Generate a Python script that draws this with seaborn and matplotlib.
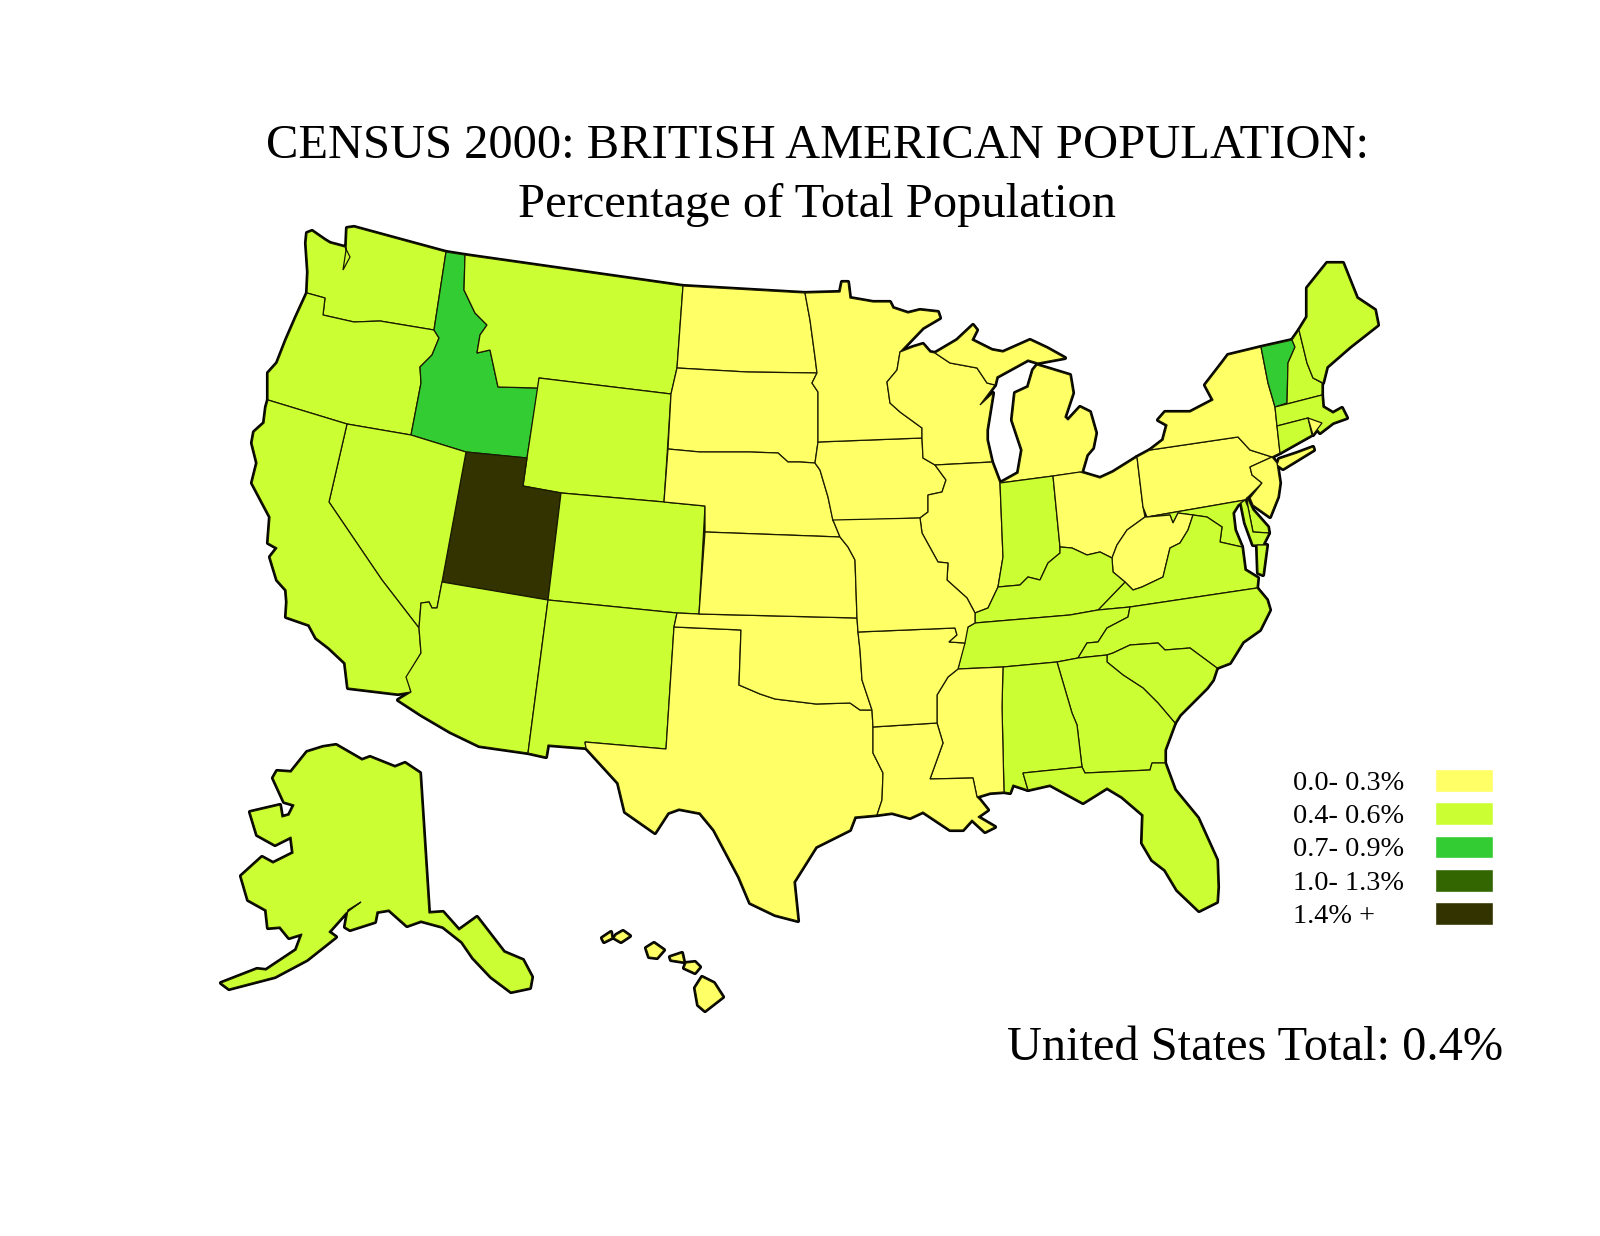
import matplotlib
matplotlib.use("Agg")
import matplotlib.pyplot as plt
import seaborn as sns

sns.set_theme(style="white")
plt.rcParams['font.family'] = ['Liberation Serif', 'DejaVu Serif']

# Legend classes
BIN_LABELS = ["0.0- 0.3%", "0.4- 0.6%", "0.7- 0.9%", "1.0- 1.3%", "1.4% +"]
BIN_COLORS = ["#FFFF66", "#CCFF33", "#33CC33", "#336600", "#333300"]
SWATCH_SIZE = [1, 1, 1, 1, 1]

# State outlines, in image pixels
WA = [[(307,233),(312,231),(325,240),(330,243),(345,247),(350,257),(343,270),(346,250),(347,228),(354,227),(446,252),(434,330),(380,321),(354,322),(323,315),(325,298),(307,293),(308,272),(306,243)]]
OR = [[(307,293),(325,298),(323,315),(354,322),(380,321),(434,330),(439,338),(432,355),(420,367),(421,383),(411,435),(347,424),(268,400),(268,373),(277,363),(286,340),(296,317)]]
ID = [[(446,252),(465,255),(464,290),(475,313),(487,325),(480,335),(477,353),(490,350),(498,387),(538,388),(527,458),(466,452),(411,435),(421,383),(420,367),(432,355),(439,338),(434,330)]]
MT = [[(465,255),(683,286),(677,368),(671,394),(539,378),(538,388),(498,387),(490,350),(477,353),(480,335),(487,325),(475,313),(464,290)]]
WY = [[(539,378),(671,394),(664,502),(562,493),(523,486),(527,458)]]
UT = [[(466,452),(527,458),(523,486),(561,493),(548,600),(442,582)]]
CO = [[(561,493),(664,502),(705,506),(699,614),(677,613),(548,600)]]
NV = [[(347,424),(411,435),(466,452),(442,582),(437,608),(432,608),(429,602),(421,603),(419,628),(382,580),(329,502)]]
CA = [[(268,400),(347,424),(329,502),(382,580),(419,628),(421,653),(407,677),(411,692),(398,694),(348,688),(345,663),(329,648),(316,638),(309,625),(286,617),(287,602),(286,590),(277,580),(270,557),(277,548),(268,543),(270,517),(261,500),(252,483),(257,463),(252,443),(254,432),(264,423),(266,407)]]
AZ = [[(442,582),(548,600),(528,753),(479,746),(450,732),(421,715),(398,700),(411,692),(406,677),(421,653),(419,628),(421,603),(429,602),(432,608),(437,608)]]
NM = [[(548,600),(677,613),(674,627),(666,749),(585,742),(586,748),(548,745),(546,757),(528,753)]]
TX = [[(674,627),(741,630),(739,685),(760,694),(775,699),(816,704),(850,703),(860,710),(872,710),(873,727),(873,753),(883,773),(882,800),(877,815),(855,817),(850,830),(816,847),(794,882),(798,921),(775,915),(750,903),(739,877),(714,830),(700,813),(679,809),(668,813),(655,833),(625,812),(618,783),(586,748),(585,742),(666,749)]]
OK = [[(677,613),(699,614),(857,618),(858,632),(860,650),(862,680),(872,710),(860,710),(850,703),(816,704),(775,699),(760,694),(739,685),(741,630),(674,627)]]
ND = [[(683,286),(805,293),(810,320),(815,357),(817,373),(747,372),(677,368)]]
SD = [[(677,368),(747,372),(817,373),(812,383),(818,392),(818,442),(815,463),(800,462),(788,462),(778,453),(750,452),(700,452),(668,449),(671,394)]]
NE = [[(668,449),(700,452),(750,452),(778,453),(788,462),(800,462),(815,463),(820,470),(828,497),(833,520),(840,537),(705,532),(705,506),(664,502)]]
KS = [[(705,532),(840,537),(848,547),(855,560),(857,618),(699,614)]]
IA = [[(818,442),(922,438),(923,458),(935,465),(946,480),(942,492),(928,495),(928,512),(920,518),(833,521),(828,497),(820,470),(815,463)]]
MN = [[(805,293),(840,292),(842,282),(848,282),(850,298),(873,302),(890,302),(893,308),(908,313),(920,310),(938,312),(940,318),(923,328),(900,352),(897,370),(887,382),(890,403),(900,412),(922,428),(922,438),(818,442),(818,392),(812,383),(817,373),(815,357),(810,320)]]
WI = [[(900,352),(913,347),(923,344),(930,352),(935,353),(950,363),(977,368),(987,383),(995,385),(980,405),(993,393),(987,430),(987,440),(992,462),(935,465),(923,458),(922,438),(922,428),(900,412),(890,403),(887,382),(897,370)]]
MI = [[(935,353),(957,340),(973,325),(977,330),(972,340),(992,350),(1003,352),(1030,340),(1047,348),(1065,358),(1038,363),(1028,360),(997,377),(995,385),(987,383),(977,368),(950,363)],
      [(1037,365),(1047,368),(1070,375),(1073,393),(1065,417),(1068,420),(1080,407),(1090,412),(1096,433),(1093,448),(1087,455),(1082,472),(1053,476),(1000,483),(1018,473),(1022,450),(1012,420),(1015,393),(1028,387),(1033,370)]]
IL = [[(935,465),(992,462),(1000,483),(1003,557),(998,587),(988,608),(975,613),(967,598),(947,580),(948,563),(938,562),(922,533),(920,518),(928,512),(928,495),(942,492),(946,480)]]
IN = [[(1000,483),(1053,476),(1060,547),(1060,553),(1048,563),(1040,580),(1028,577),(1020,585),(998,587),(1003,557)]]
OH = [[(1053,476),(1080,472),(1100,478),(1113,472),(1137,457),(1143,507),(1145,517),(1127,530),(1117,545),(1112,558),(1100,552),(1087,555),(1072,548),(1060,547)]]
PA = [[(1137,457),(1150,450),(1238,437),(1250,450),(1272,457),(1250,467),(1252,475),(1262,483),(1245,500),(1147,517),(1143,507)]]
NY = [[(1150,450),(1163,440),(1167,425),(1158,420),(1165,412),(1190,412),(1213,400),(1205,385),(1222,363),(1228,355),(1261,347),(1268,383),(1275,407),(1277,426),(1280,453),(1272,457),(1250,450),(1238,437)],
      [(1279,459),(1297,453),(1313,447),(1314,450),(1283,469),(1277,465)]]
VT = [[(1261,347),(1292,340),(1295,347),(1288,363),(1287,403),(1275,407),(1268,383)]]
NH = [[(1292,340),(1299,330),(1307,363),(1313,378),(1322,383),(1322,395),(1287,404),(1288,363),(1295,347)]]
ME = [[(1299,330),(1307,317),(1307,288),(1327,263),(1343,263),(1357,298),(1375,310),(1378,325),(1350,347),(1327,367),(1323,383),(1313,378),(1307,363)]]
MA = [[(1275,407),(1287,404),(1322,395),(1323,407),(1333,413),(1342,408),(1347,418),(1333,423),(1320,433),(1308,418),(1277,426)]]
CT = [[(1277,426),(1308,418),(1312,435),(1280,453)]]
RI = [[(1308,418),(1322,423),(1313,435)]]
NJ = [[(1272,457),(1277,463),(1280,483),(1278,497),(1270,517),(1253,505),(1250,498),(1262,483),(1252,475),(1250,467)]]
DE = [[(1247,497),(1253,510),(1268,527),(1269,533),(1253,532),(1248,507)]]
MD = [[(1147,517),(1245,500),(1238,505),(1233,513),(1235,530),(1242,547),(1220,542),(1222,527),(1207,517),(1193,515),(1178,513),(1173,523),(1170,515)],
      [(1245,500),(1248,507),(1253,532),(1269,533),(1263,545),(1253,545),(1245,523),(1241,503)]]
WV = [[(1147,517),(1170,515),(1173,523),(1178,513),(1193,515),(1188,530),(1180,543),(1170,548),(1163,577),(1142,587),(1133,590),(1125,582),(1113,572),(1112,558),(1117,545),(1127,530),(1145,517)]]
VA = [[(1193,515),(1207,517),(1222,527),(1220,542),(1242,547),(1245,570),(1258,578),(1257,588),(1130,607),(1098,610),(1125,582),(1133,590),(1142,587),(1163,577),(1170,548),(1180,543),(1188,530)],
      [(1257,545),(1267,545),(1263,575),(1258,573)]]
KY = [[(998,587),(1020,585),(1028,577),(1040,580),(1048,563),(1060,553),(1060,547),(1072,548),(1087,555),(1100,552),(1112,558),(1113,572),(1125,582),(1098,610),(1070,615),(975,623),(975,613),(988,608)]]
TN = [[(968,627),(975,623),(1070,615),(1098,610),(1130,607),(1128,617),(1107,628),(1098,642),(1087,643),(1078,658),(1057,662),(1003,667),(958,669),(967,630)]]
NC = [[(1130,607),(1257,588),(1267,600),(1270,610),(1260,630),(1243,642),(1230,663),(1217,668),(1190,648),(1165,650),(1158,643),(1130,645),(1113,653),(1107,655),(1078,658),(1087,643),(1098,642),(1107,628),(1128,617)]]
SC = [[(1107,655),(1113,653),(1130,645),(1158,643),(1165,650),(1190,648),(1217,668),(1213,680),(1207,688),(1180,715),(1175,723),(1158,703),(1143,688),(1123,675),(1107,662)]]
GA = [[(1057,662),(1078,658),(1107,655),(1107,662),(1123,675),(1143,688),(1158,703),(1175,723),(1165,750),(1165,763),(1152,763),(1150,770),(1085,773),(1082,767),(1077,725),(1072,713)]]
AL = [[(1003,667),(1057,662),(1072,713),(1077,725),(1082,767),(1023,773),(1028,790),(1013,785),(1010,793),(1004,792),(1002,707)]]
FL = [[(1023,773),(1082,767),(1085,773),(1150,770),(1152,763),(1165,763),(1175,790),(1198,818),(1217,860),(1218,887),(1217,902),(1199,911),(1177,890),(1165,870),(1152,860),(1142,843),(1143,815),(1122,797),(1107,788),(1083,803),(1050,785),(1028,790)]]
MS = [[(958,669),(1003,667),(1002,707),(1004,792),(990,793),(977,797),(973,778),(930,779),(943,743),(937,723),(937,695),(948,677)]]
LA = [[(873,727),(937,723),(943,743),(930,779),(973,778),(977,797),(980,800),(988,810),(978,817),(995,827),(985,832),(972,820),(963,830),(950,830),(923,812),(910,818),(892,813),(877,815),(882,800),(883,773),(873,753)]]
AR = [[(858,632),(955,628),(957,635),(949,642),(965,643),(958,669),(948,677),(937,695),(937,723),(873,727),(872,710),(862,680),(860,650)]]
MO = [[(833,520),(920,518),(922,533),(938,562),(948,563),(947,580),(967,598),(975,613),(975,623),(968,627),(965,643),(949,642),(957,635),(955,628),(858,632),(857,618),(855,560),(848,547),(840,537)]]
AK = [[(336,745),(362,760),(370,757),(395,767),(405,763),(420,773),(429,913),(443,912),(459,930),(477,917),(504,952),(523,960),(532,977),(530,988),(511,992),(491,977),(473,958),(462,942),(443,927),(421,921),(407,926),(389,910),(377,912),(375,922),(350,930),(345,927),(348,910),(361,902),(346,913),(329,932),(336,937),(307,960),(275,977),(229,989),(221,983),(257,969),(266,970),(296,950),(302,934),(289,938),(280,927),(268,928),(266,910),(248,900),(241,876),(262,857),(273,863),(293,853),(291,837),(275,845),(257,835),(250,812),(280,805),(282,817),(289,815),(294,805),(284,802),(273,778),(277,771),(291,772),(307,752),(323,747)]]
HI = [[(616,935),(623,931),(630,936),(621,942),(614,938)],
      [(602,938),(611,932),(612,938),(604,942)],
      [(646,948),(654,943),(664,950),(657,958),(649,957)],
      [(670,957),(682,953),(684,962),(671,960)],
      [(686,963),(695,962),(700,967),(695,973),(684,968)],
      [(702,977),(714,983),(723,997),(705,1011),(698,1005),(695,988)]]

STATES = [WA, OR, ID, MT, WY, UT, CO, NV, CA, AZ, NM, TX, OK, ND, SD, NE, KS, IA, MN, WI, MI, IL, IN, OH, PA, NY,
          VT, NH, ME, MA, CT, RI, NJ, DE, MD, WV, VA, KY, TN, NC, SC, GA, AL, FL, MS, LA, AR, MO, AK, HI]
# Index into BIN_LABELS for each state above
STATE_BINS = [1, 1, 2, 1, 1, 4, 1, 1, 1, 1, 1, 0, 0, 0, 0, 0, 0, 0, 0, 0, 0, 0, 1, 0, 0, 0,
              2, 1, 1, 1, 1, 0, 0, 1, 1, 0, 1, 1, 1, 1, 1, 1, 1, 1, 0, 0, 0, 0, 1, 0]

palette = sns.color_palette(BIN_COLORS)

fig = plt.figure(figsize=(16, 12.36), dpi=100, facecolor="white")
ax = fig.add_axes([0, 0, 1, 1])
ax.set_xlim(0, 1600)
ax.set_ylim(1236, 0)
ax.axis("off")

# First pass leaves a heavy black line only on the outer coast
for parts in STATES:
    for part in parts:
        ax.fill(*zip(*part), facecolor="black", edgecolor="black", lw=3.0, joinstyle="round", zorder=1)

for parts, b in zip(STATES, STATE_BINS):
    for part in parts:
        ax.fill(*zip(*part), facecolor=palette[b], edgecolor="#1a1a00", lw=0.9, zorder=2)

ax.text(817, 146, "CENSUS 2000: BRITISH AMERICAN POPULATION:", ha="center", va="center", fontsize=34.9, color="black")
ax.text(817, 205, "Percentage of Total Population", ha="center", va="center", fontsize=34.9, color="black")
ax.text(1503, 1048, "United States Total: 0.4%", ha="right", va="center", fontsize=34.8, color="black")

# Legend: bar swatches with the class labels as tick labels
leg_ax = fig.add_axes([1435 / 1600, 1 - 930 / 1236, 58 / 1600, 166 / 1236])
sns.barplot(x=SWATCH_SIZE, y=BIN_LABELS, hue=BIN_LABELS, palette=BIN_COLORS, width=0.69,
            legend=False, ax=leg_ax, saturation=1)
leg_ax.set_xlim(0, 1)
leg_ax.set_xticks([])
leg_ax.set_xlabel("")
leg_ax.set_ylabel("")
leg_ax.tick_params(axis="y", length=0, pad=102)
for lab in leg_ax.get_yticklabels():
    lab.set_ha("left")
    lab.set_fontsize(20.3)
    lab.set_color("black")
sns.despine(ax=leg_ax, left=True, bottom=True)

fig.savefig("out.png", dpi=100, facecolor="white")
